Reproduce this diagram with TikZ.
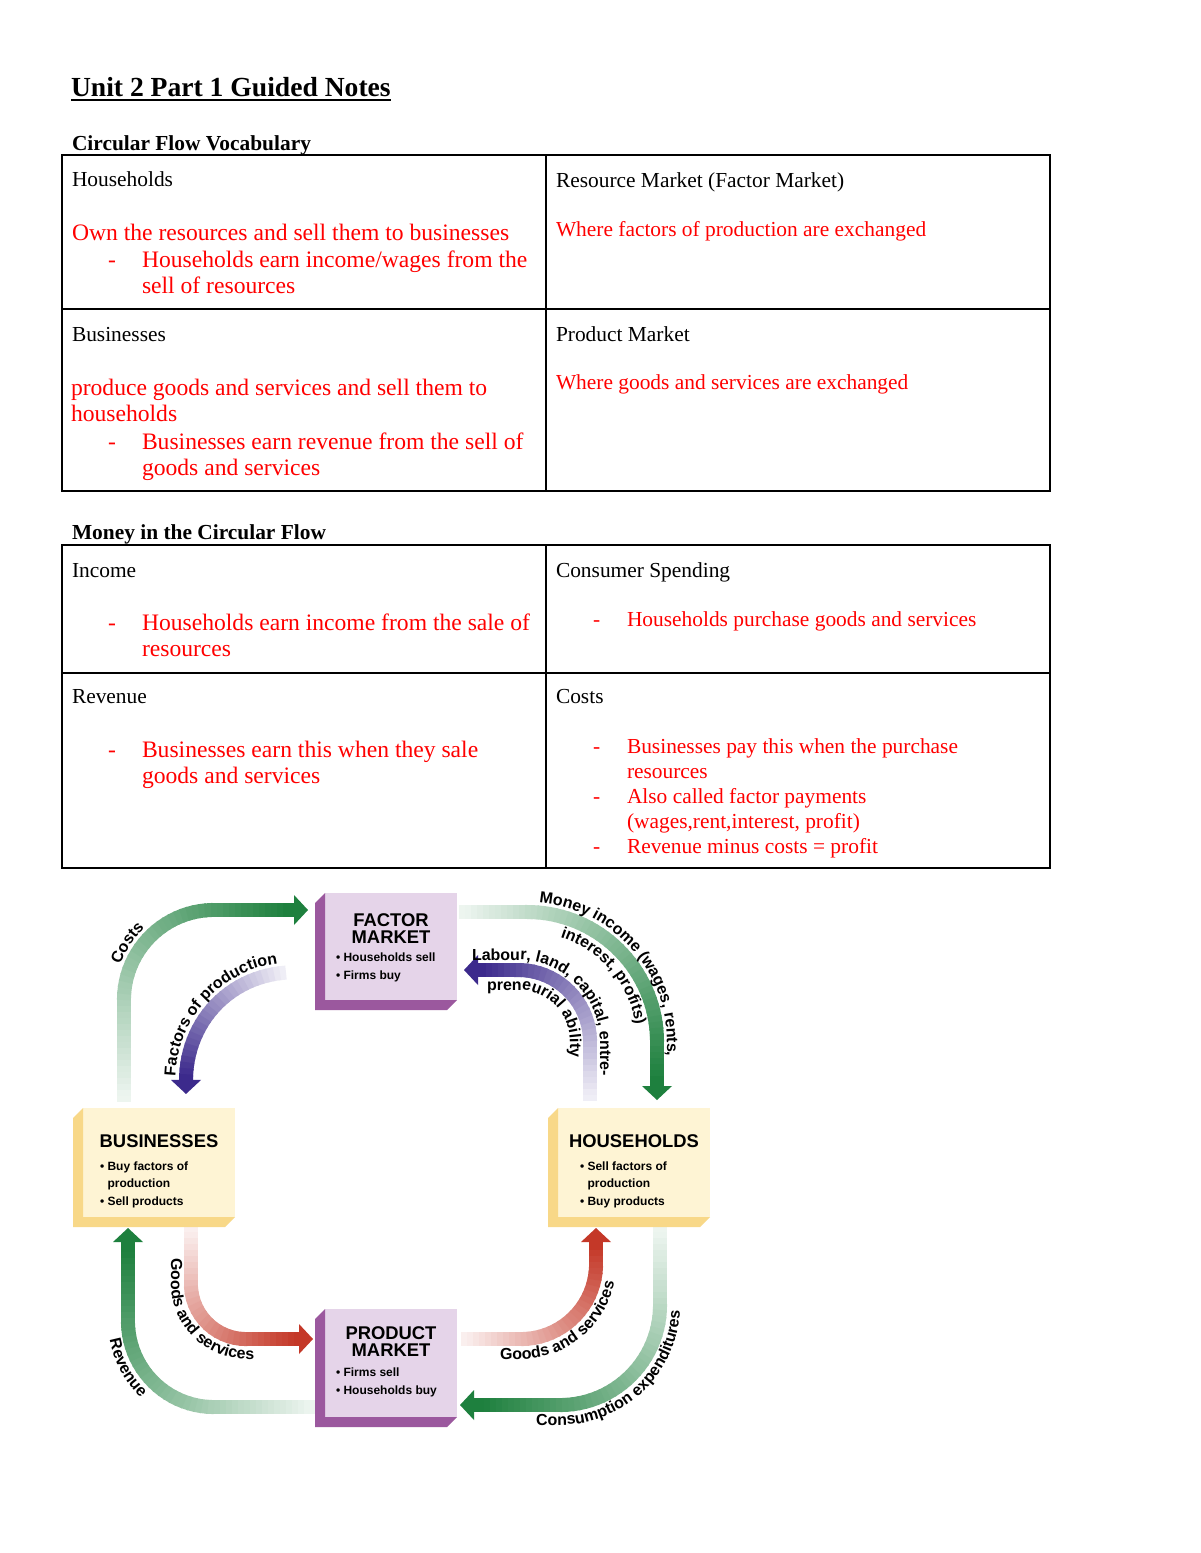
\documentclass[tikz,border=0pt]{standalone}
\usepackage{fontspec}
\setmainfont{Liberation Serif}
\setsansfont{Liberation Sans}
\usetikzlibrary{decorations.markings,decorations.text,positioning}
\definecolor{ggreen}{RGB}{30,128,62}
\definecolor{gpurple}{RGB}{60,42,140}
\definecolor{gred}{RGB}{196,56,40}
\definecolor{mkface}{RGB}{229,212,233}
\definecolor{mkside}{RGB}{155,88,158}
\definecolor{agface}{RGB}{254,244,212}
\definecolor{agside}{RGB}{248,216,136}
\newcommand\lblfont{\sffamily\bfseries\fontsize{8}{9}\selectfont}
\begin{document}
\begin{tikzpicture}[
  x=0.5pt, y=0.5pt,
  every node/.style={inner sep=0pt, outer sep=0pt},
  rule/.style={line width=1pt},
  hd/.style={anchor=base west, font=\bfseries\fontsize{10.7}{12}\selectfont},
  cellhd/.style={anchor=base west, font=\fontsize{10.7}{12.5}\selectfont},
  redbig/.style={anchor=base west, align=left, text=red, font=\fontsize{11.8}{13}\selectfont},
  redsm/.style={anchor=base west, align=left, text=red, font=\fontsize{10.7}{12.5}\selectfont},
  mkbox/.style={fill=mkface, minimum width=66pt},
  agbox/.style={fill=agface, minimum width=76pt, minimum height=54.5pt},
  boxtitle/.style={anchor=base, align=center, font=\sffamily\bfseries\fontsize{9.2}{8.4}\selectfont},
  boxitems/.style={anchor=base west, align=left, font=\sffamily\bfseries\fontsize{6}{8.7}\selectfont},
  flowband/.style={postaction={decorate}, decoration={markings,
    mark=between positions 0 and 1 step 3pt with {
      \pgfmathtruncatemacro\shadepc{min(100,8+95*\pgfkeysvalueof{/pgf/decoration/mark info/distance from start}/\pgfdecoratedpathlength)}
      \fill[sharp corners, #1!\shadepc!white] (-4,-7) rectangle (4,7);},
    mark=at position 1 with {\fill[sharp corners, #1] (-1,-15) -- (13,0) -- (-1,15) -- cycle;}}},
  flowlabel/.style 2 args={decorate, decoration={text along path,
    text={|\lblfont|#2}, text align={left indent=#1}}}
]
\path[use as bounding box, fill=white] (0,0) rectangle (1200,-1553);

% headings and tables (multi-line nodes sit on their last line)
\node[hd, font=\bfseries\fontsize{13.8}{15}\selectfont] (ttl) at (71,-96) {Unit 2 Part 1 Guided Notes};
\draw[line width=1pt] ([yshift=-1.8pt]ttl.base west) -- ([yshift=-1.8pt]ttl.base east);
\node[hd] (voc) at (72,-150) {Circular Flow Vocabulary};
\node[hd] (mon) at (72,-539) {Money in the Circular Flow};
\draw[rule] (62,-155) rectangle (1050,-491) (546,-155) -- (546,-491) (62,-309) -- (1050,-309);
\draw[rule] (62,-545) rectangle (1050,-868) (546,-545) -- (546,-868) (62,-673) -- (1050,-673);

\node[cellhd] (hhh) at (72,-186) {Households};
\node[redbig] (hhdef) at (72,-240) {Own the resources and sell them to businesses};
\node[redbig] (hhi) at (142,-293) {Households earn income/wages from the\\sell of resources};
\node[cellhd] (rmh) at (556,-187) {Resource Market (Factor Market)};
\node[redsm] (rmdef) at (556,-236) {Where factors of production are exchanged};
\node[cellhd] (bsh) at (72,-341) {Businesses};
\node[redbig] (bsdef) at (71,-421) {produce goods and services and sell them to\\households};
\node[redbig] (bsi) at (142,-475) {Businesses earn revenue from the sell of\\goods and services};
\node[cellhd] (pmh) at (556,-341) {Product Market};
\node[redsm] (pmdef) at (556,-389) {Where goods and services are exchanged};

\node[cellhd] (inh) at (72,-577) {Income};
\node[redbig] (ini) at (142,-656) {Households earn income from the sale of\\resources};
\node[cellhd] (csh) at (556,-577) {Consumer Spending};
\node[redsm] (csi) at (627,-626) {Households purchase goods and services};
\node[cellhd] (rvh) at (72,-703) {Revenue};
\node[redbig] (rvi) at (142,-783) {Businesses earn this when they sale\\goods and services};
\node[cellhd] (cth) at (556,-703) {Costs};
\node[redsm] (cti) at (627,-778) {Businesses pay this when the purchase\\resources};
\node[redsm] (ctii) at (627,-828) {Also called factor payments\\(wages,rent,interest, profit)};
\node[redsm] (ctiii) at (627,-853) {Revenue minus costs = profit};
\foreach \y in {267,449,630,757}
  \node[redbig] (dl\y) at (108,-\y) {-};
\foreach \y in {626,753,803,853}
  \node[redsm] (dr\y) at (593,-\y) {-};

% circular flow
\coordinate (cs) at (124,-1098);  \coordinate (ce) at (295,-910);
\coordinate (fs) at (282,-973);   \coordinate (fe) at (186,-1081);
\coordinate (ms) at (463,-912);   \coordinate (me) at (657,-1087);
\coordinate (ls) at (590,-1097);  \coordinate (le) at (477,-970);
\coordinate (gls) at (191,-1230); \coordinate (gle) at (300,-1339);
\coordinate (rs) at (312,-1407);  \coordinate (re) at (128,-1241);
\coordinate (grs) at (465,-1339); \coordinate (gre) at (596,-1241);
\coordinate (cns) at (660,-1230); \coordinate (cne) at (473,-1405);

\path[flowband=ggreen, rounded corners=45pt] (cs) |- (ce);
\path[flowband=gpurple] (fs) to[out=186, in=90] (fe);
\path[flowband=ggreen, rounded corners=65pt] (ms) -| (me);
\path[flowband=gpurple, rounded corners=36pt] (ls) |- (le);
\path[flowband=gred, rounded corners=27.5pt] (gls) |- (gle);
\path[flowband=ggreen, rounded corners=43pt] (rs) -| (re);
\path[flowband=gred, rounded corners=37.5pt] (grs) -| (gre);
\path[flowband=ggreen, rounded corners=50pt] (cns) |- (cne);

\node[mkbox, minimum height=53.5pt] (fm) at (391,-946.5) {};
\node[mkbox, minimum height=54pt] (pm) at (391,-1363) {};
\node[agbox] (bus) at (159,-1162.5) {};
\node[agbox] (hh) at (634,-1162.5) {};
\foreach \b/\s in {fm/mkside, pm/mkside, bus/agside, hh/agside}
  \fill[\s] (\b.north west) -- ++(-10,-10) -- ([shift={(-10,-10)}]\b.south west)
    -- ([shift={(-10,-10)}]\b.south east) -- (\b.south east) -- (\b.south west) -- cycle;

\node[boxtitle] (fmt) at (391,-943) {FACTOR\\MARKET};
\node[boxitems] (fmi) at (336,-979) {• Households sell\\• Firms buy};
\node[boxtitle] (bust) at (159,-1147) {BUSINESSES};
\node[boxitems] (busi) at (100,-1205) {• Buy factors of\\\hphantom{• }production\\• Sell products};
\node[boxtitle] (hht) at (634,-1147) {HOUSEHOLDS};
\node[boxitems] (hhi) at (580,-1205) {• Sell factors of\\\hphantom{• }production\\• Buy products};
\node[boxtitle] (pmt) at (391,-1356) {PRODUCT\\MARKET};
\node[boxitems] (pmi) at (336,-1394) {• Firms sell\\• Households buy};

\path[flowlabel={67pt}{Costs}, rounded corners=50pt] (114,-1098) |- (300,-900);
\path[flowlabel={2pt}{Factors of production}] (175.5,-1080) to[out=90, in=180] (293,-962.5) -- (320,-962.5);
\path[flowlabel={38pt}{Money income (wages, rents,}, rounded corners=70pt] (463,-902) -| (667,-1100);
\path[flowlabel={49pt}{interest, profits)}, rounded corners=55pt] (463,-932) -| (637,-1100);
\path[flowlabel={0pt}{Labour, land, capital, entre-}, rounded corners=41pt] (472,-960) -| (600,-1110);
\path[flowlabel={0pt}{preneurial ability}, rounded corners=26pt] (487,-990) -| (570,-1110);
\path[flowlabel={9pt}{Goods and services}, rounded corners=37.5pt] (171,-1240) |- (320,-1359);
\path[flowlabel={20pt}{Revenue}, rounded corners=53pt] (108,-1300) |- (320,-1427);
\path[flowlabel={17.5pt}{Goods and services}, rounded corners=47.5pt] (465,-1359) -| (616,-1230);
\path[flowlabel={8pt}{Consumption expenditures}, rounded corners=60pt] (520,-1425) -| (680,-1240);
\end{tikzpicture}
\end{document}
